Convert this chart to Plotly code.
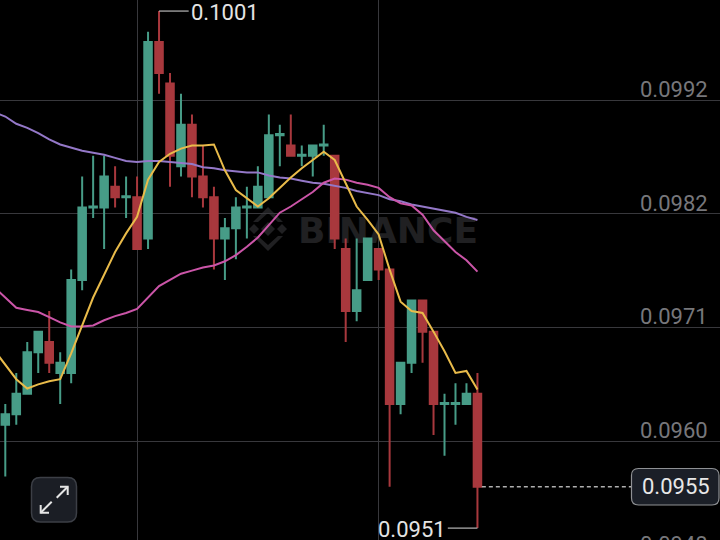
import plotly.graph_objects as go

# candles, oldest first
opens = [0.0961, 0.0962, 0.0964, 0.0968, 0.0969, 0.0966, 0.0966, 0.0975, 0.0982, 0.0982, 0.0984,
         0.0983, 0.0983, 0.0979, 0.0998, 0.0994, 0.0986, 0.0990, 0.0985, 0.0983, 0.0979, 0.0980,
         0.0982, 0.0982, 0.0983, 0.0989, 0.0988, 0.0987, 0.0987, 0.0988, 0.0987, 0.0978, 0.0972,
         0.0975, 0.0978, 0.0976, 0.0963, 0.0967, 0.0973, 0.0970, 0.0963, 0.0963, 0.0963, 0.0964]
highs = [0.0963, 0.0966, 0.0969, 0.0970, 0.0972, 0.0968, 0.0976, 0.0985, 0.0987, 0.0987, 0.0986,
         0.0985, 0.0985, 0.0999, 0.1001, 0.0995, 0.0993, 0.0991, 0.0988, 0.0984, 0.0981, 0.0983,
         0.0984, 0.0986, 0.0991, 0.0990, 0.0991, 0.0988, 0.0988, 0.0990, 0.0987, 0.0979, 0.0979,
         0.0979, 0.0978, 0.0976, 0.0967, 0.0973, 0.0973, 0.0970, 0.0964, 0.0965, 0.0965, 0.0966]
lows = [0.0956, 0.0961, 0.0964, 0.0966, 0.0966, 0.0963, 0.0965, 0.0974, 0.0981, 0.0978, 0.0982,
        0.0981, 0.0978, 0.0978, 0.0993, 0.0984, 0.0985, 0.0983, 0.0982, 0.0976, 0.0975, 0.0977,
        0.0979, 0.0982, 0.0983, 0.0986, 0.0987, 0.0986, 0.0985, 0.0987, 0.0978, 0.0969, 0.0971,
        0.0975, 0.0975, 0.0955, 0.0962, 0.0966, 0.0967, 0.0960, 0.0958, 0.0961, 0.0963, 0.0951]
closes = [0.0962, 0.0964, 0.0968, 0.0970, 0.0967, 0.0967, 0.0975, 0.0982, 0.09821, 0.0985, 0.0983,
          0.09831, 0.0978, 0.0998, 0.0995, 0.0987, 0.0990, 0.0985, 0.0983, 0.0979, 0.0980, 0.0982,
          0.09821, 0.0984, 0.0989, 0.09891, 0.0987, 0.09871, 0.0988, 0.09881, 0.0979, 0.0972, 0.0974,
          0.0979, 0.0976, 0.0963, 0.0967, 0.0973, 0.0970, 0.0963, 0.09631, 0.09631, 0.0964, 0.0955]

# moving averages start one candle earlier, just off the left edge
ma_yellow = [0.09682, 0.09668, 0.09654, 0.09645, 0.09649, 0.09652, 0.09654, 0.09679, 0.09706, 0.09733,
             0.09755, 0.09777, 0.09795, 0.09811, 0.09847, 0.09864, 0.09872, 0.09877, 0.09880, 0.09880,
             0.09881, 0.09856, 0.09837, 0.09829, 0.09821, 0.09829, 0.09839, 0.09849, 0.09858, 0.09866,
             0.09874, 0.09866, 0.09844, 0.09821, 0.09808, 0.09794, 0.09760, 0.09729, 0.09720, 0.09718,
             0.09700, 0.09681, 0.09660, 0.09662, 0.09644]
ma_pink = [0.09743, 0.09733, 0.09723, 0.09721, 0.09719, 0.09714, 0.09709, 0.09705, 0.09705, 0.09706,
           0.09711, 0.09715, 0.09718, 0.09722, 0.09733, 0.09744, 0.09750, 0.09756, 0.09759, 0.09762,
           0.09764, 0.09768, 0.09774, 0.09782, 0.09791, 0.09803, 0.09815, 0.09821, 0.09828, 0.09835,
           0.09844, 0.09848, 0.09847, 0.09844, 0.09842, 0.09839, 0.09830, 0.09824, 0.09822, 0.09813,
           0.09798, 0.09787, 0.09777, 0.09769, 0.09758]
ma_purple = [0.09912, 0.09908, 0.09901, 0.09897, 0.09892, 0.09886, 0.09881, 0.09878, 0.09875, 0.09873,
             0.09871, 0.09868, 0.09865, 0.09864, 0.09865, 0.09865, 0.09864, 0.09863, 0.09862, 0.09859,
             0.09858, 0.09856, 0.09855, 0.09854, 0.09854, 0.09851, 0.09849, 0.09848, 0.09846, 0.09844,
             0.09843, 0.09841, 0.09839, 0.09836, 0.09834, 0.09832, 0.09828, 0.09826, 0.09823, 0.09821,
             0.09819, 0.09817, 0.09815, 0.09811, 0.09808]

tick_values = [0.09924, 0.09814, 0.09704, 0.09594, 0.09484]
tick_labels = ["0.0992", "0.0982", "0.0971", "0.0960", "0.0948"]
time_grid = [12, 34]

high_label, high_idx, high_price = "0.1001", 14, 0.1001
low_label, low_idx, low_price = "0.0951", 43, 0.0951
last_label, last_idx, last_price = "0.0955", 43, 0.0955

WIDTH, HEIGHT = 720, 540
Y_MIN, Y_MAX = 0.094985, 0.100207
GRID = "#38383c"
FONT = "Roboto"
FONT_SIZE = 22


def px(x):
    return x / WIDTH


def py(y):
    return 1 - y / HEIGHT


def price_to_paper(p):
    return (p - Y_MIN) / (Y_MAX - Y_MIN)


def rounded_rect(x0, y0, x1, y1, r):
    # paper-coordinate svg path, plotly shapes have no corner radius
    a, b, c, d = px(x0), px(x1), py(y0), py(y1)
    rx, ry = r / WIDTH, r / HEIGHT
    return (f"M {a + rx} {c} L {b - rx} {c} Q {b} {c} {b} {c - ry} L {b} {d + ry} Q {b} {d} {b - rx} {d} "
            f"L {a + rx} {d} Q {a} {d} {a} {d + ry} L {a} {c - ry} Q {a} {c} {a + rx} {c} Z")


def poly(points, close=False):
    path = " L ".join(f"{px(x)} {py(y)}" for x, y in points)
    return "M " + path + (" Z" if close else "")


fig = go.Figure()
fig.add_trace(go.Candlestick(x=list(range(len(opens))), open=opens, high=highs, low=lows, close=closes,
                             increasing=dict(line=dict(color="#479c87", width=2), fillcolor="#479c87"),
                             decreasing=dict(line=dict(color="#a8383d", width=2), fillcolor="#a8383d"),
                             whiskerwidth=0, showlegend=False))

ma_x = list(range(-1, len(opens)))
fig.add_trace(go.Scatter(x=ma_x, y=ma_purple, mode="lines", line=dict(color="#9478c8", width=2), showlegend=False))
fig.add_trace(go.Scatter(x=ma_x, y=ma_pink, mode="lines", line=dict(color="#cb55a8", width=2), showlegend=False))
fig.add_trace(go.Scatter(x=ma_x, y=ma_yellow, mode="lines", line=dict(color="#e9bb4a", width=2), showlegend=False))

shapes = []
# watermark sits under the candles
for pts in ([(268, 222), (275, 229), (268, 236), (261, 229)],
            [(254, 224), (259, 229), (254, 234), (249, 229)],
            [(282, 224), (287, 229), (282, 234), (277, 229)],
            [(268, 207), (283, 222), (278, 222), (268, 213), (258, 222), (253, 222)],
            [(268, 251), (283, 236), (278, 236), (268, 245), (258, 236), (253, 236)]):
    shapes.append(dict(type="path", xref="paper", yref="paper", path=poly(pts, True), fillcolor="#202022",
                       line_width=0, layer="below"))
shapes.append(dict(type="rect", xref="paper", yref="paper", x0=px(296), x1=px(480), y0=py(243), y1=py(211),
                   line_width=0, layer="below",
                   label=dict(text="BINANCE", font=dict(family="DejaVu Sans", size=36, color="#202022", weight="bold"),
                              textposition="middle center")))

# leader lines of the high / low labels and the last price line
shapes.append(dict(type="line", x0=high_idx, x1=high_idx + 2.7, y0=high_price, y1=high_price,
                   line=dict(color="#b8b8b8", width=1.2)))
shapes.append(dict(type="line", x0=low_idx, x1=low_idx - 2.7, y0=low_price, y1=low_price,
                   line=dict(color="#b8b8b8", width=1.2)))
shapes.append(dict(type="line", xref="x", x0=last_idx + 0.4, x1=(631 - 5.3) / 10.98, y0=last_price, y1=last_price,
                   line=dict(color="#b0b0b0", width=1.4, dash="4px,3px")))

# last price box
shapes.append(dict(type="path", xref="paper", yref="paper", path=rounded_rect(631.5, 468.5, 719, 505, 7),
                   fillcolor="#1b1f27", line=dict(color="#8f9194", width=1.2)))

# fullscreen button
shapes.append(dict(type="path", xref="paper", yref="paper", path=rounded_rect(31.5, 477.5, 76.5, 522, 9),
                   fillcolor="#1b1e25", line=dict(color="#3c3f46", width=1.5)))
for pts in ([(51.7, 501.7), (40.7, 512.7)], [(40.7, 505), (40.7, 512.7), (49, 512.7)],
            [(56.7, 497.7), (67.7, 486.7)], [(60, 486.7), (67.7, 486.7), (67.7, 495)]):
    shapes.append(dict(type="path", xref="paper", yref="paper", path=poly(pts),
                       line=dict(color="#e6e6e6", width=2)))

annotations = []
for val, lab in zip(tick_values, tick_labels):
    annotations.append(dict(x=px(710), xref="paper", y=price_to_paper(val), yref="paper", text=lab, showarrow=False,
                            xanchor="right", yanchor="middle", yshift=10.5,
                            font=dict(family=FONT, size=FONT_SIZE, color="#77777b")))
annotations.append(dict(x=high_idx + 2.75, y=high_price, text=high_label, showarrow=False, xanchor="left",
                        yanchor="middle", yshift=-1, font=dict(family=FONT, size=FONT_SIZE, color="#e4e4e4")))
annotations.append(dict(x=low_idx - 2.75, y=low_price, text=low_label, showarrow=False, xanchor="right",
                        yanchor="middle", yshift=-1, xshift=1, font=dict(family=FONT, size=FONT_SIZE, color="#e4e4e4")))
annotations.append(dict(x=px(675.5), xref="paper", y=price_to_paper(last_price), yref="paper", text=last_label,
                        showarrow=False, xanchor="center", yanchor="middle",
                        font=dict(family=FONT, size=FONT_SIZE, color="#e8e8e8")))

fig.update_layout(width=WIDTH, height=HEIGHT, margin=dict(l=0, r=0, t=0, b=0),
                  paper_bgcolor="#000000", plot_bgcolor="#000000", boxgap=0.02, showlegend=False,
                  shapes=shapes, annotations=annotations)
fig.update_xaxes(range=[-0.483, 65.09], tickvals=time_grid, showticklabels=False, showgrid=True,
                 gridcolor=GRID, gridwidth=1, zeroline=False, rangeslider_visible=False, showline=False)
fig.update_yaxes(range=[Y_MIN, Y_MAX], tickvals=tick_values, showticklabels=False, showgrid=True,
                 gridcolor=GRID, gridwidth=1, zeroline=False, showline=False)

# browser default body margin would shift the page by 8px
fig.write_html("out.html", config=dict(displayModeBar=False),
               post_script="document.body.style.margin='0';document.body.style.background='#000';")
